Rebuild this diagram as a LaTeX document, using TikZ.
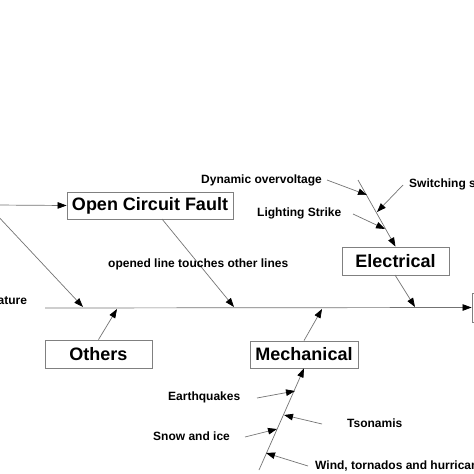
\documentclass[tikz,border=0pt]{standalone}
\usepackage{fontspec}
\setmainfont{Liberation Sans}
\usetikzlibrary{arrows.meta}
\begin{document}
\begin{tikzpicture}[x=1pt,y=-1pt,
  bone/.style={draw=black!55, line width=0.7pt},
  arr/.style={bone, -{Triangle[length=9pt,width=6.5pt,color=black]}},
  box/.style={draw=black!50, line width=0.8pt, fill=white, inner sep=0pt,
    font=\bfseries\fontsize{18}{18}\selectfont},
  lbl/.style={inner sep=0pt, anchor=west, font=\bfseries\fontsize{12}{12}\selectfont}]
\useasboundingbox (0,0) rectangle (474,474);
\clip (0,0) rectangle (474,474);
% boxes
\node[box, minimum width=166pt, minimum height=27pt] (ocf) at (150,205.5) {Open Circuit Fault};
\node[box, minimum width=107pt, minimum height=28pt] (el) at (395.5,261) {Electrical};
\node[box, minimum width=108pt, minimum height=27pt] (mech) at (304,354.5) {Mechanical};
\node[box, minimum width=107pt, minimum height=28pt] (oth) at (98.5,354) {Others};
\node[box, minimum width=18pt, minimum height=29pt] (eff) at (481,307.5) {};
% spine
\coordinate (s0) at (45,308);
\draw[arr] (s0) -- (eff.west);
% left inputs
\coordinate (l0) at (-5,205);
\draw[arr] (l0) -- (ocf.west);
\coordinate (d0) at (-5,213);
\coordinate (d1) at (83,307);
\draw[arr] (d0) -- (d1);
% open circuit fault bone
\coordinate (o0) at (162,219);
\coordinate (o1) at (234,307);
\draw[arr] (o0) -- (o1);
% electrical bones
\coordinate (e0) at (358,180);
\draw[arr] (e0) -- (el.north);
\coordinate (e1) at (395,275);
\coordinate (e2) at (415,307);
\draw[arr] (e1) -- (e2);
% mechanical bones
\coordinate (m1) at (322,309);
\draw[arr] (mech.north) -- (m1);
\coordinate (m0) at (259,470);
\draw[arr] (m0) -- (mech.south);
% others bone
\coordinate (t1) at (117,309);
\draw[arr] (oth.north) -- (t1);
% labels
\node[lbl] (temp) at (-45,302) {Temperature};
\node[lbl] (opl) at (108,264) {opened line touches other lines};
\node[lbl] (dyn) at (201,180) {Dynamic overvoltage};
\node[lbl] (sw) at (409,184) {Switching surges};
\node[lbl] (ls) at (257,213) {Lighting Strike};
\node[lbl] (eq) at (168,397) {Earthquakes};
\node[lbl] (ts) at (347,423) {Tsonamis};
\node[lbl] (sn) at (153,436) {Snow and ice};
\node[lbl] (wind) at (315,466) {Wind, tornados and hurricanes};
% electrical causes
\coordinate (dyn0) at (327,180); \coordinate (dyn1) at (367,195);
\draw[arr] (dyn0) -- (dyn1);
\coordinate (sw0) at (403,185); \coordinate (sw1) at (377,212);
\draw[arr] (sw0) -- (sw1);
\coordinate (ls0) at (353,214); \coordinate (ls1) at (385,229);
\draw[arr] (ls0) -- (ls1);
% mechanical causes
\coordinate (eq0) at (257,398); \coordinate (eq1) at (295,391);
\draw[arr] (eq0) -- (eq1);
\coordinate (ts0) at (322,424); \coordinate (ts1) at (284,415);
\draw[arr] (ts0) -- (ts1);
\coordinate (sn0) at (245,437); \coordinate (sn1) at (277,429);
\draw[arr] (sn0) -- (sn1);
\coordinate (w0) at (308,466); \coordinate (w1) at (266,453);
\draw[arr] (w0) -- (w1);
\end{tikzpicture}
\end{document}
